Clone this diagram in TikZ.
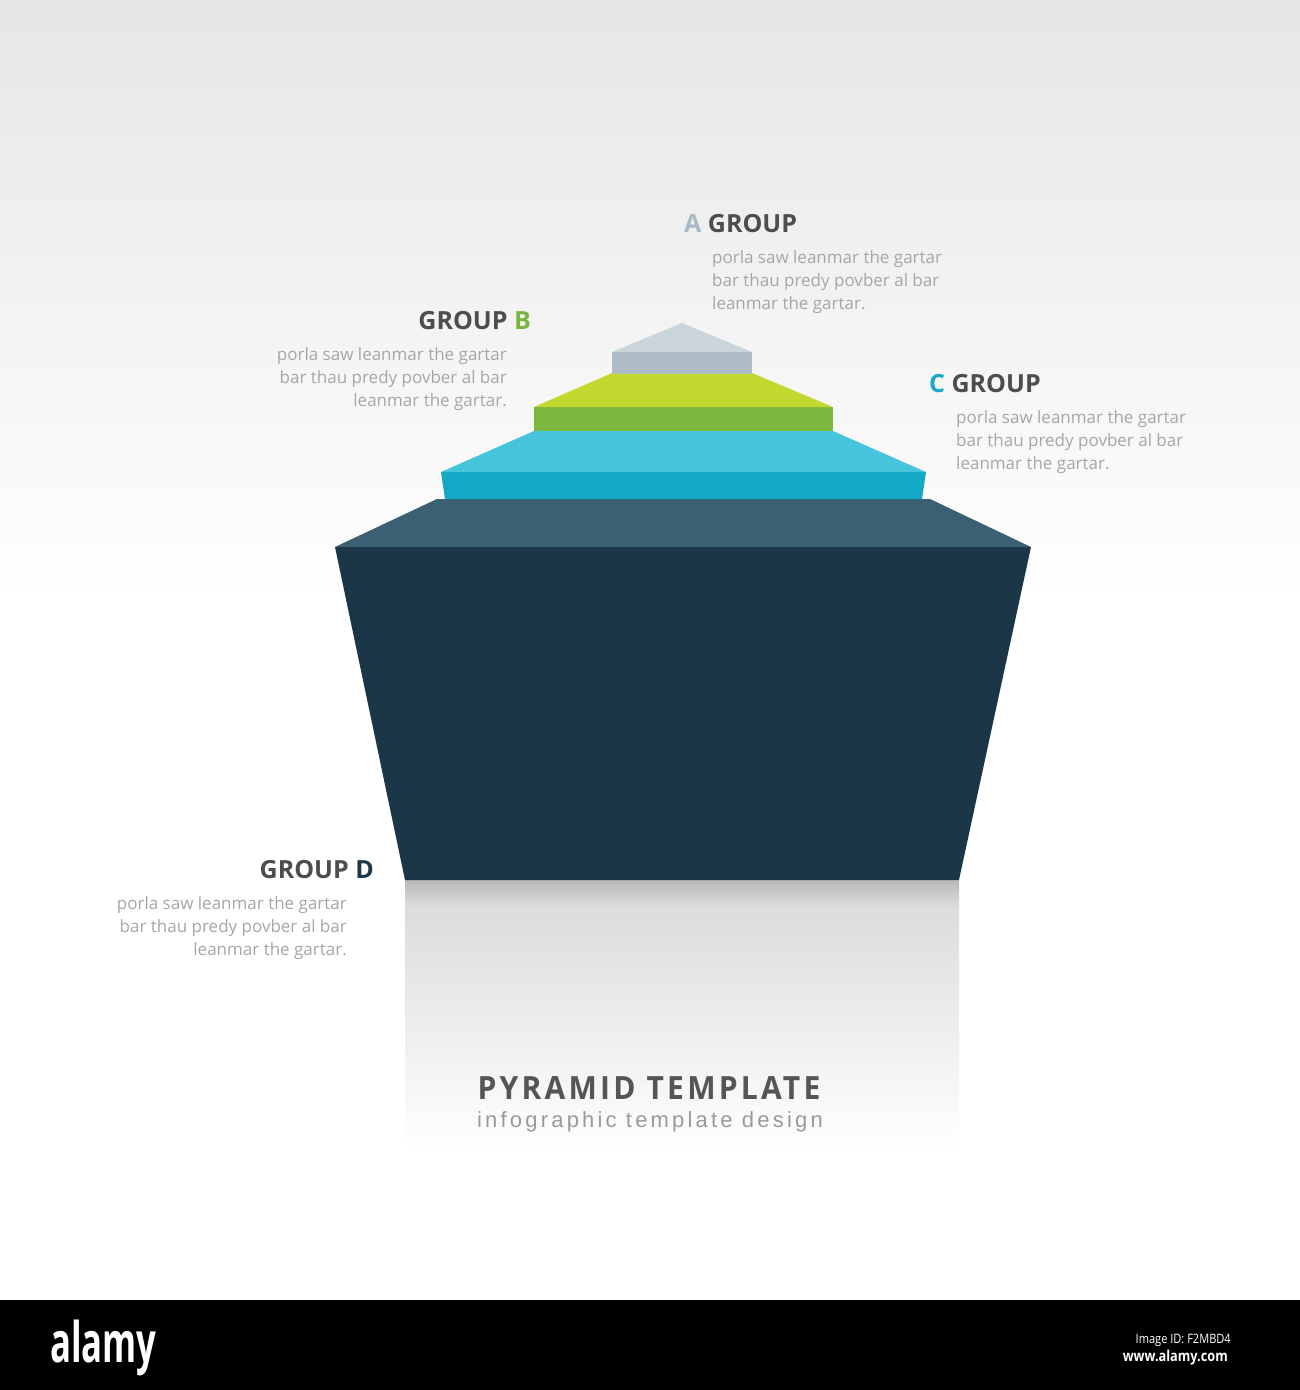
\documentclass[tikz,border=0pt]{standalone}
\usepackage{fontspec}
\setmainfont{Open Sans}
\newfontfamily\subfont{Liberation Sans}[LetterSpace=14.5]
\newfontfamily\titlefont{Open Sans}[LetterSpace=10,FakeStretch=0.94]
\newfontfamily\logofont{Open Sans}[FakeStretch=0.62]
\newfontfamily\narrowfont{Open Sans}[FakeStretch=0.85]
\definecolor{bgtop}{HTML}{E6E6E6}
\definecolor{aRoof}{HTML}{C9D4DB}
\definecolor{aFront}{HTML}{AEBCC7}
\definecolor{bTop}{HTML}{C2D82E}
\definecolor{bFront}{HTML}{7CB740}
\definecolor{cTop}{HTML}{45C4DC}
\definecolor{cFront}{HTML}{14A8C7}
\definecolor{dTop}{HTML}{3B5F73}
\definecolor{dFront}{HTML}{1B3647}
\definecolor{grpgray}{HTML}{4D4D4D}
\definecolor{bodygray}{HTML}{A6A6A6}
\definecolor{aLetter}{HTML}{A9B9C5}
\definecolor{bLetter}{HTML}{7AB542}
\definecolor{cLetter}{HTML}{17A9C6}
\definecolor{dLetter}{HTML}{1C3647}
\definecolor{reflA}{HTML}{B8B8B8}
\definecolor{reflB}{HTML}{DCDCDC}
\definecolor{titlegray}{HTML}{555555}
\definecolor{subgray}{HTML}{9A9A9A}
\begin{document}
\begin{tikzpicture}[x=1pt,y=-1pt,
  head/.style={font=\bfseries\fontsize{25}{30}\selectfont, text=grpgray, inner sep=0pt},
  bodyline/.style={font=\fontsize{17}{23}\selectfont, text=bodygray, inner sep=0pt}]
\useasboundingbox (0,0) rectangle (1300,1390);
\fill[white] (0,0) rectangle (1300,1390);
\shade[top color=bgtop, bottom color=white] (0,0) rectangle (1300,600);
% reflection
\shade[top color=reflA, bottom color=reflB] (405,880) rectangle (959,906);
\shade[top color=reflB, bottom color=white] (405,905) rectangle (959,1150);
% level D
\fill[dFront] (335,547) -- (1031,547) -- (959,880) -- (405,880) -- cycle;
\fill[dTop] (437,499) -- (930,499) -- (1031,547) -- (335,547) -- cycle;
% level C
\fill[cFront] (441,472) -- (926,472) -- (922,499) -- (445,499) -- cycle;
\fill[cTop] (534,431) -- (833,431) -- (926,472) -- (441,472) -- cycle;
% level B
\fill[bFront] (534,407) rectangle (833,431);
\fill[bTop] (612,373) -- (752,373) -- (833,407) -- (534,407) -- cycle;
% level A
\fill[aFront] (612,352) rectangle (752,373.5);
\fill[aRoof] (612,352) -- (682,323) -- (752,352) -- cycle;
% group A
\node[head, anchor=base west] (ahead) at (684,232) {\textcolor{aLetter}{A} GROUP};
\node[bodyline, anchor=base west] (a1) at (712,263) {porla saw leanmar the gartar};
\node[bodyline, anchor=base west] (a2) at (712,286) {bar thau predy povber al bar};
\node[bodyline, anchor=base west] (a3) at (712,309) {leanmar the gartar.};
% group B
\node[head, anchor=base east] (bhead) at (531,329) {GROUP \textcolor{bLetter}{B}};
\node[bodyline, anchor=base east] (b1) at (507,360) {porla saw leanmar the gartar};
\node[bodyline, anchor=base east] (b2) at (507,383) {bar thau predy povber al bar};
\node[bodyline, anchor=base east] (b3) at (507,406) {leanmar the gartar.};
% group C
\node[head, anchor=base west] (chead) at (929,392) {\textcolor{cLetter}{C} GROUP};
\node[bodyline, anchor=base west] (c1) at (956,423) {porla saw leanmar the gartar};
\node[bodyline, anchor=base west] (c2) at (956,446) {bar thau predy povber al bar};
\node[bodyline, anchor=base west] (c3) at (956,469) {leanmar the gartar.};
% group D
\node[head, anchor=base east] (dhead) at (374,878) {GROUP \textcolor{dLetter}{D}};
\node[bodyline, anchor=base east] (d1) at (347,909) {porla saw leanmar the gartar};
\node[bodyline, anchor=base east] (d2) at (347,932) {bar thau predy povber al bar};
\node[bodyline, anchor=base east] (d3) at (347,955) {leanmar the gartar.};
% title
\node[anchor=base, inner sep=0pt, text=titlegray, font=\titlefont\bfseries\fontsize{32}{36}\selectfont] (title) at (649,1099) {PYRAMID TEMPLATE};
\node[anchor=base, inner sep=0pt, text=subgray, font=\subfont\fontsize{22}{26}\selectfont] (subtitle) at (650,1127) {infographic template design};
% bottom bar
\fill[black] (0,1300) rectangle (1300,1390);
\node[anchor=base west, inner sep=0pt, text=white, font=\logofont\bfseries\fontsize{56}{60}\selectfont] (logo) at (50,1362) {alamy};
\node[anchor=base east, inner sep=0pt, text=white, font=\narrowfont\fontsize{13}{16}\selectfont] (imgid) at (1231,1343) {Image ID: F2MBD4};
\node[anchor=base east, inner sep=0pt, text=white, font=\narrowfont\bfseries\fontsize{15}{18}\selectfont] (www) at (1228,1361) {www.alamy.com};
\end{tikzpicture}
\end{document}
